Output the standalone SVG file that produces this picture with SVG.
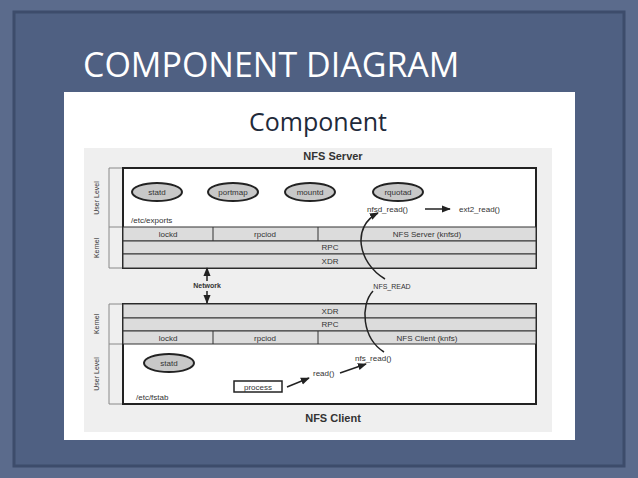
<svg xmlns="http://www.w3.org/2000/svg" width="638" height="478" viewBox="0 0 638 478">
<defs>
<style>
.t{font-family:"Liberation Sans",Arial,sans-serif;fill:#333}
.s{font-size:8px}
.b{font-weight:bold}
.ln{stroke:#222;fill:none;stroke-width:1.5}
.el{fill:#c8c8c8;stroke:#222;stroke-width:2}
.row{fill:#dcdcdc;stroke:#333;stroke-width:1}
</style>
<marker id="a" viewBox="0 0 10 10" refX="9" refY="5" markerWidth="6" markerHeight="6" orient="auto"><path d="M0,1L10,5L0,9z" fill="#222"/></marker>
</defs>
<rect width="638" height="478" fill="#5b6b8c"/>
<rect x="14" y="12" width="610" height="454" fill="#4f6082" stroke="#3d4c6b" stroke-width="3"/>
<text x="83" y="77" font-family="Open Sans,Liberation Sans,sans-serif" font-size="34" fill="#fff">COMPONENT DIAGRAM</text>
<rect x="64" y="92" width="511" height="348" fill="#fff"/>
<text x="318" y="131" text-anchor="middle" font-family="Open Sans,Liberation Sans,sans-serif" font-size="25" fill="#1f2a3a">Component</text>
<rect x="84" y="148" width="468" height="284" fill="#efefef"/>
<g id="server">
<text class="t b" x="333" y="160" text-anchor="middle" font-size="11">NFS Server</text>
<path d="M123,168H109V268H123M109,227H123" stroke="#888" fill="none"/>
<text class="t" font-size="7" transform="translate(99,198) rotate(-90)" text-anchor="middle">User Level</text>
<text class="t" font-size="7" transform="translate(99,248) rotate(-90)" text-anchor="middle">Kernel</text>
<rect x="123" y="168" width="413" height="100" fill="#fff" stroke="#222" stroke-width="2"/>
<rect class="row" x="123" y="227" width="413" height="14"/>
<rect class="row" x="123" y="241" width="413" height="13"/>
<rect class="row" x="123" y="254" width="413" height="14"/>
<path d="M213,227V241M318,227V241" stroke="#333"/>
<text class="t s" x="168" y="237" text-anchor="middle">lockd</text>
<text class="t s" x="265" y="237" text-anchor="middle">rpciod</text>
<text class="t s" x="427" y="237" text-anchor="middle">NFS Server (knfsd)</text>
<text class="t s" x="330" y="250" text-anchor="middle">RPC</text>
<text class="t s" x="330" y="264" text-anchor="middle">XDR</text>
<ellipse class="el" cx="157" cy="192" rx="25" ry="9"/><text class="t s" x="157" y="195" text-anchor="middle">statd</text>
<ellipse class="el" cx="233" cy="192" rx="25" ry="9"/><text class="t s" x="233" y="195" text-anchor="middle">portmap</text>
<ellipse class="el" cx="310" cy="192" rx="25" ry="9"/><text class="t s" x="310" y="195" text-anchor="middle">mountd</text>
<ellipse class="el" cx="398" cy="192" rx="25" ry="9"/><text class="t s" x="398" y="195" text-anchor="middle">rquotad</text>
<text class="t s" x="367" y="212">nfsd_read()</text>
<text class="t s" x="459" y="212">ext2_read()</text>
<text class="t s" x="131" y="223">/etc/exports</text>
</g>
<g id="network">
<text class="t b" x="207" y="288" text-anchor="middle" font-size="7">Network</text>
<text class="t" x="392" y="289" text-anchor="middle" font-size="7">NFS_READ</text>
</g>
<g id="client">
<path d="M123,304H109V404H123M109,344H123" stroke="#888" fill="none"/>
<text class="t" font-size="7" transform="translate(99,324) rotate(-90)" text-anchor="middle">Kernel</text>
<text class="t" font-size="7" transform="translate(99,374) rotate(-90)" text-anchor="middle">User Level</text>
<rect x="123" y="304" width="413" height="100" fill="#fff" stroke="#222" stroke-width="2"/>
<rect class="row" x="123" y="304" width="413" height="14"/>
<rect class="row" x="123" y="318" width="413" height="13"/>
<rect class="row" x="123" y="331" width="413" height="13"/>
<path d="M213,331V344M318,331V344" stroke="#333"/>
<text class="t s" x="330" y="314" text-anchor="middle">XDR</text>
<text class="t s" x="330" y="327" text-anchor="middle">RPC</text>
<text class="t s" x="168" y="341" text-anchor="middle">lockd</text>
<text class="t s" x="265" y="341" text-anchor="middle">rpciod</text>
<text class="t s" x="427" y="341" text-anchor="middle">NFS Client (knfs)</text>
<ellipse class="el" cx="169" cy="363" rx="25" ry="9"/><text class="t s" x="169" y="366" text-anchor="middle">statd</text>
<rect x="234" y="381" width="48" height="11" fill="#fff" stroke="#222" stroke-width="1.5"/>
<text class="t s" x="258" y="390" text-anchor="middle">process</text>
<text class="t s" x="313" y="376">read()</text>
<text class="t s" x="355" y="361">nfs_read()</text>
<text class="t s" x="136" y="400">/etc/fstab</text>
<text class="t b" x="333" y="422" text-anchor="middle" font-size="11">NFS Client</text>
</g>
<g id="connectors">
<path class="ln" d="M207,281V268" marker-end="url(#a)"/>
<path class="ln" d="M207,291V303" marker-end="url(#a)"/>
<path class="ln" d="M425,209H450" marker-end="url(#a)"/>
<path class="ln" d="M287,387L309,378" marker-end="url(#a)"/>
<path class="ln" d="M340,373L366,364" marker-end="url(#a)"/>
<path class="ln" d="M384,352C362,338 360,305 373,291"/>
<path class="ln" d="M385,279C357,262 352,226 378,213" marker-end="url(#a)"/>
</g>
</svg>
